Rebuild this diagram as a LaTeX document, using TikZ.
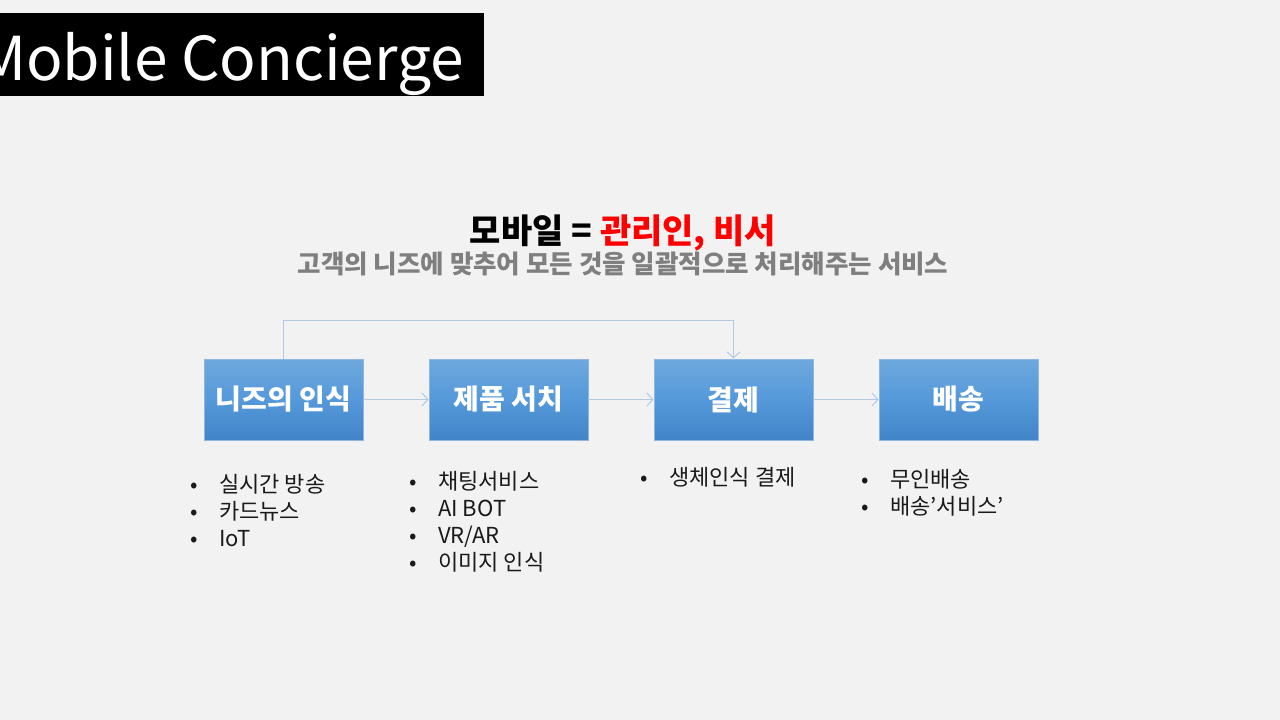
\documentclass[tikz,border=0pt]{standalone}
\usepackage{fontspec}
\setmainfont{Noto Sans CJK KR}
\usetikzlibrary{arrows.meta}
\definecolor{bgc}{HTML}{F2F2F2}
\definecolor{boxtop}{HTML}{6EA8DD}
\definecolor{boxmid}{HTML}{5599DA}
\definecolor{boxbot}{HTML}{4284C7}
\definecolor{boxedge}{HTML}{8DB6E0}
\definecolor{connc}{HTML}{B3C9E3}
\definecolor{subgray}{HTML}{7F7F7F}
\definecolor{headred}{HTML}{FF0000}
\definecolor{bullettext}{HTML}{1A1A1A}
\tikzset{
  stepbox/.style={rectangle, minimum width=159pt, minimum height=81pt, inner sep=0pt,
    top color=boxtop, bottom color=boxbot, middle color=boxmid, draw=boxedge, line width=0.8pt,
    text=white, font=\fontsize{28}{32}\selectfont\bfseries},
  conn/.style={draw=connc, line width=1.6pt, -{Straight Barb[length=6pt,width=13pt,line width=1pt]}},
  topconn/.style={draw=connc, line width=1pt, -{Straight Barb[length=6pt,width=13pt,line width=1pt]}},
  bullist/.style={anchor=base west, inner sep=0pt, text=bullettext, font=\fontsize{22}{27}\selectfont}
}
\newcommand{\bl}{\makebox[29pt][l]{•}}
\begin{document}
\begin{tikzpicture}[x=1pt,y=-1pt]
\useasboundingbox (0,0) rectangle (1280,720);
\fill[bgc] (0,0) rectangle (1280,720);
% title bar
\fill[black] (0,13) rectangle (484,96);
\begin{scope}
\clip (0,13) rectangle (484,96);
\node[anchor=base east, inner sep=0pt, text=white, font=\fontsize{60.5}{62}\selectfont] (title) at (464,80) {Mobile Concierge};
\end{scope}
% heading
\node[anchor=base, inner sep=0pt, font=\fontsize{34}{38}\selectfont\bfseries] (head) at (623,243) {모바일 = \textcolor{headred}{관리인, 비서}};
\node[anchor=base, inner sep=0pt, text=subgray, font=\fontsize{25.5}{30}\selectfont\bfseries] (sub) at (623,273) {고객의 니즈에 맞추어 모든 것을 일괄적으로 처리해주는 서비스};
% boxes
\node[stepbox] (b1) at (283.5,399.5) {니즈의 인식};
\node[stepbox] (b2) at (508.5,399.5) {제품 서치};
\node[stepbox] (b3) at (733.5,399.5) {결제};
\node[stepbox] (b4) at (958.5,399.5) {배송};
% connectors
\draw[conn] (b1.east) -- (b2.west);
\draw[conn] (b2.east) -- (b3.west);
\draw[conn] (b3.east) -- (b4.west);
\draw[topconn] (b1.north) -- ++(0,-38) -| (b3.north);
% bullet lists
\node[bullist] (l1) at (190,492) {\begin{tabular}[t]{@{}l@{}}\bl 실시간 방송\\ \bl 카드뉴스\\ \bl IoT\end{tabular}};
\node[bullist] (l2) at (409,489) {\begin{tabular}[t]{@{}l@{}}\bl 채팅서비스\\ \bl AI BOT\\ \bl VR/AR\\ \bl 이미지 인식\end{tabular}};
\node[bullist] (l3) at (640,485) {\begin{tabular}[t]{@{}l@{}}\bl 생체인식 결제\end{tabular}};
\node[bullist] (l4) at (861,487) {\begin{tabular}[t]{@{}l@{}}\bl 무인배송\\ \bl 배송’서비스’\end{tabular}};
\end{tikzpicture}
\end{document}
